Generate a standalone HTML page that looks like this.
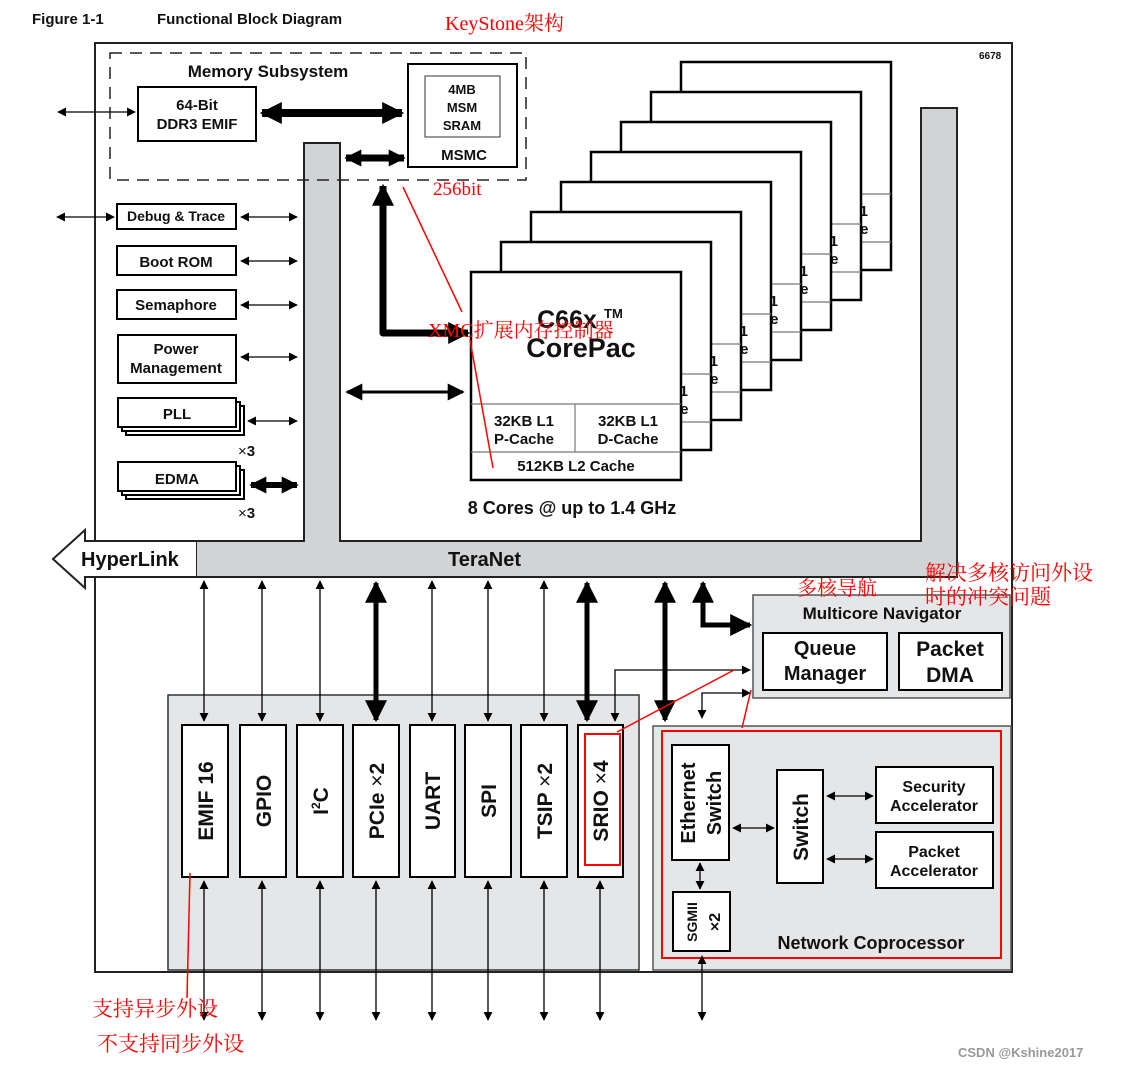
<!DOCTYPE html>
<html><head><meta charset="utf-8"><style>
html,body{margin:0;padding:0;background:#fff;}
svg{display:block;}
text{font-family:"Liberation Sans",Arial,sans-serif;font-weight:bold;fill:#111;}
.r{font-family:"Liberation Serif","Noto Serif CJK SC",serif;font-weight:normal;fill:#f00;}
</style></head><body>
<svg width="1121" height="1067" viewBox="0 0 1121 1067" xmlns="http://www.w3.org/2000/svg">
<defs>
<marker id="t" viewBox="0 0 10 10" refX="9" refY="5" markerWidth="9" markerHeight="11" markerUnits="userSpaceOnUse" orient="auto-start-reverse"><path d="M0,0L10,5L0,10z" fill="#000"/></marker>
<marker id="T" viewBox="0 0 10 10" refX="9" refY="5" markerWidth="22" markerHeight="24" markerUnits="userSpaceOnUse" orient="auto-start-reverse"><path d="M0,0L10,5L0,10z" fill="#000"/></marker>
<marker id="M" viewBox="0 0 10 10" refX="9" refY="5" markerWidth="17" markerHeight="20" markerUnits="userSpaceOnUse" orient="auto-start-reverse"><path d="M0,0L10,5L0,10z" fill="#000"/></marker>
</defs>

<text x="32" y="24" font-size="15">Figure 1-1</text>
<text x="157" y="24" font-size="15">Functional Block Diagram</text>
<text x="445" y="30" font-size="20" class="r">KeyStone架构</text>

<rect x="95" y="43" width="917" height="929" fill="#fff" stroke="#222" stroke-width="2"/>
<text x="979" y="59" font-size="10" font-weight="normal">6678</text>

<path d="M304,143H340V541H921V108H957V577H196V541H304Z" fill="#d2d3d5" stroke="#222" stroke-width="2"/>
<path d="M196,541H85V530L53,559L85,588V577H196" fill="#fff" stroke="#222" stroke-width="2"/>
<text x="81" y="566" font-size="20">HyperLink</text>
<text x="448" y="566" font-size="20">TeraNet</text>

<rect x="110" y="53" width="416" height="127" fill="none" stroke="#222" stroke-width="1.5" stroke-dasharray="12,8"/>
<text x="268" y="77" font-size="17" text-anchor="middle">Memory Subsystem</text>
<rect x="138" y="87" width="118" height="54" fill="#fff" stroke="#000" stroke-width="2"/>
<text x="197" y="110" font-size="15" text-anchor="middle">64-Bit</text>
<text x="197" y="129" font-size="15" text-anchor="middle">DDR3 EMIF</text>
<rect x="408" y="64" width="109" height="103" fill="#fff" stroke="#000" stroke-width="2"/>
<rect x="425" y="76" width="75" height="61" fill="#fff" stroke="#333" stroke-width="1"/>
<text x="462" y="94" font-size="13" text-anchor="middle">4MB</text>
<text x="462" y="112" font-size="13" text-anchor="middle">MSM</text>
<text x="462" y="130" font-size="13" text-anchor="middle">SRAM</text>
<text x="464" y="160" font-size="15" text-anchor="middle">MSMC</text>
<line x1="262" y1="113" x2="402" y2="113" stroke="#000" stroke-width="8" marker-start="url(#T)" marker-end="url(#T)"/>
<line x1="346" y1="158" x2="404" y2="158" stroke="#000" stroke-width="7" marker-start="url(#M)" marker-end="url(#M)"/>
<line x1="58" y1="112" x2="135" y2="112" stroke="#000" stroke-width="1.3" marker-start="url(#t)" marker-end="url(#t)"/>
<path d="M383,186V333H468" fill="none" stroke="#000" stroke-width="7" stroke-linejoin="round" marker-start="url(#T)" marker-end="url(#T)"/>
<text x="433" y="195" font-size="19" class="r">256bit</text>

<g stroke="#000" stroke-width="2" fill="#fff">
<rect x="117" y="204" width="119" height="25"/>
<rect x="117" y="246" width="119" height="29"/>
<rect x="117" y="290" width="119" height="29"/>
<rect x="118" y="335" width="118" height="48"/>
<rect x="126" y="406" width="118" height="29"/><rect x="122" y="402" width="118" height="29"/><rect x="118" y="398" width="118" height="29"/>
<rect x="126" y="470" width="118" height="29"/><rect x="122" y="466" width="118" height="29"/><rect x="118" y="462" width="118" height="29"/>
</g>
<text x="176" y="221" font-size="14" text-anchor="middle">Debug &amp; Trace</text>
<text x="176" y="267" font-size="15" text-anchor="middle">Boot ROM</text>
<text x="176" y="310" font-size="15" text-anchor="middle">Semaphore</text>
<text x="176" y="354" font-size="15" text-anchor="middle">Power</text>
<text x="176" y="373" font-size="15" text-anchor="middle">Management</text>
<text x="177" y="419" font-size="15" text-anchor="middle">PLL</text>
<text x="177" y="484" font-size="15" text-anchor="middle">EDMA</text>
<text x="238" y="456" font-size="15"><tspan font-weight="normal">×</tspan>3</text>
<text x="238" y="518" font-size="15"><tspan font-weight="normal">×</tspan>3</text>
<g stroke="#000" stroke-width="1.3" marker-start="url(#t)" marker-end="url(#t)">
<line x1="57" y1="217" x2="114" y2="217"/>
<line x1="241" y1="217" x2="297" y2="217"/>
<line x1="241" y1="261" x2="297" y2="261"/>
<line x1="241" y1="305" x2="297" y2="305"/>
<line x1="241" y1="357" x2="297" y2="357"/>
<line x1="248" y1="421" x2="297" y2="421"/>
</g>
<line x1="251" y1="485" x2="297" y2="485" stroke="#000" stroke-width="6" marker-start="url(#M)" marker-end="url(#M)"/>
<line x1="347" y1="392" x2="463" y2="392" stroke="#000" stroke-width="3" marker-start="url(#M)" marker-end="url(#M)"/>

<g stroke="#000" fill="#fff">
<g transform="translate(210,-210)"><rect x="471" y="272" width="210" height="208" stroke-width="2.5"/><path d="M471,404H681M575,404V452M471,452H681" stroke="#777" stroke-width="1.2"/><text x="628" y="426" font-size="15" text-anchor="middle" stroke="none">32KB L1</text><text x="628" y="444" font-size="15" text-anchor="middle" stroke="none">D-Cache</text></g>
<g transform="translate(180,-180)"><rect x="471" y="272" width="210" height="208" stroke-width="2.5"/><path d="M471,404H681M575,404V452M471,452H681" stroke="#777" stroke-width="1.2"/><text x="628" y="426" font-size="15" text-anchor="middle" stroke="none">32KB L1</text><text x="628" y="444" font-size="15" text-anchor="middle" stroke="none">D-Cache</text></g>
<g transform="translate(150,-150)"><rect x="471" y="272" width="210" height="208" stroke-width="2.5"/><path d="M471,404H681M575,404V452M471,452H681" stroke="#777" stroke-width="1.2"/><text x="628" y="426" font-size="15" text-anchor="middle" stroke="none">32KB L1</text><text x="628" y="444" font-size="15" text-anchor="middle" stroke="none">D-Cache</text></g>
<g transform="translate(120,-120)"><rect x="471" y="272" width="210" height="208" stroke-width="2.5"/><path d="M471,404H681M575,404V452M471,452H681" stroke="#777" stroke-width="1.2"/><text x="628" y="426" font-size="15" text-anchor="middle" stroke="none">32KB L1</text><text x="628" y="444" font-size="15" text-anchor="middle" stroke="none">D-Cache</text></g>
<g transform="translate(90,-90)"><rect x="471" y="272" width="210" height="208" stroke-width="2.5"/><path d="M471,404H681M575,404V452M471,452H681" stroke="#777" stroke-width="1.2"/><text x="628" y="426" font-size="15" text-anchor="middle" stroke="none">32KB L1</text><text x="628" y="444" font-size="15" text-anchor="middle" stroke="none">D-Cache</text></g>
<g transform="translate(60,-60)"><rect x="471" y="272" width="210" height="208" stroke-width="2.5"/><path d="M471,404H681M575,404V452M471,452H681" stroke="#777" stroke-width="1.2"/><text x="628" y="426" font-size="15" text-anchor="middle" stroke="none">32KB L1</text><text x="628" y="444" font-size="15" text-anchor="middle" stroke="none">D-Cache</text></g>
<g transform="translate(30,-30)"><rect x="471" y="272" width="210" height="208" stroke-width="2.5"/><path d="M471,404H681M575,404V452M471,452H681" stroke="#777" stroke-width="1.2"/><text x="628" y="426" font-size="15" text-anchor="middle" stroke="none">32KB L1</text><text x="628" y="444" font-size="15" text-anchor="middle" stroke="none">D-Cache</text></g>
<g><rect x="471" y="272" width="210" height="208" stroke-width="2.5"/><path d="M471,404H681M575,404V452M471,452H681" stroke="#777" stroke-width="1.2"/>
<text x="524" y="426" font-size="15" text-anchor="middle" stroke="none">32KB L1</text><text x="524" y="444" font-size="15" text-anchor="middle" stroke="none">P-Cache</text>
<text x="628" y="426" font-size="15" text-anchor="middle" stroke="none">32KB L1</text><text x="628" y="444" font-size="15" text-anchor="middle" stroke="none">D-Cache</text>
<text x="576" y="471" font-size="15" text-anchor="middle" stroke="none">512KB L2 Cache</text>
<text x="567" y="328" font-size="25" text-anchor="middle" stroke="none">C66x</text><text x="604" y="318" font-size="13" stroke="none">TM</text>
<text x="581" y="357" font-size="27" text-anchor="middle" stroke="none">CorePac</text></g>
</g>
<text x="572" y="514" font-size="18" text-anchor="middle">8 Cores @ up to 1.4 GHz</text>

<rect x="168" y="695" width="471" height="275" fill="#e5e6e8" stroke="#333" stroke-width="1.5"/>
<g stroke="#000" stroke-width="2" fill="#fff">
<rect x="182" y="725" width="46" height="152"/><rect x="240" y="725" width="46" height="152"/>
<rect x="297" y="725" width="46" height="152"/><rect x="353" y="725" width="46" height="152"/>
<rect x="410" y="725" width="45" height="152"/><rect x="465" y="725" width="46" height="152"/>
<rect x="521" y="725" width="46" height="152"/><rect x="578" y="725" width="45" height="152"/>
</g>
<g font-size="21">
<text transform="translate(213,801) rotate(-90)" text-anchor="middle">EMIF 16</text>
<text transform="translate(271,801) rotate(-90)" text-anchor="middle">GPIO</text>
<text transform="translate(328,801) rotate(-90)" text-anchor="middle">I<tspan font-size="12" dy="-8">2</tspan><tspan dy="8">C</tspan></text>
<text transform="translate(384,801) rotate(-90)" text-anchor="middle">PCIe <tspan font-weight="normal">×</tspan>2</text>
<text transform="translate(440,801) rotate(-90)" text-anchor="middle">UART</text>
<text transform="translate(496,801) rotate(-90)" text-anchor="middle">SPI</text>
<text transform="translate(552,801) rotate(-90)" text-anchor="middle">TSIP <tspan font-weight="normal">×</tspan>2</text>
<text transform="translate(608,801) rotate(-90)" text-anchor="middle">SRIO <tspan font-weight="normal">×</tspan>4</text>
</g>
<rect x="585" y="734" width="35" height="131" fill="none" stroke="#f00" stroke-width="2"/>

<rect x="753" y="595" width="257" height="103" fill="#e5e6e8" stroke="#555" stroke-width="1.5"/>
<text x="882" y="619" font-size="17" text-anchor="middle">Multicore Navigator</text>
<rect x="763" y="633" width="124" height="57" fill="#fff" stroke="#000" stroke-width="2"/>
<rect x="899" y="633" width="103" height="57" fill="#fff" stroke="#000" stroke-width="2"/>
<text x="825" y="655" font-size="20" text-anchor="middle">Queue</text>
<text x="825" y="680" font-size="20" text-anchor="middle">Manager</text>
<text x="950" y="656" font-size="21" text-anchor="middle">Packet</text>
<text x="950" y="682" font-size="21" text-anchor="middle">DMA</text>

<rect x="653" y="726" width="358" height="244" fill="#e5e6e8" stroke="#555" stroke-width="1.5"/>
<rect x="662" y="731" width="339" height="227" fill="none" stroke="#f00" stroke-width="2"/>
<g stroke="#000" stroke-width="2" fill="#fff">
<rect x="672" y="745" width="57" height="115"/>
<rect x="673" y="892" width="57" height="59"/>
<rect x="777" y="770" width="46" height="113"/>
<rect x="876" y="767" width="117" height="56"/>
<rect x="876" y="832" width="117" height="56"/>
</g>
<text transform="translate(695,803) rotate(-90)" font-size="20" text-anchor="middle">Ethernet</text>
<text transform="translate(721,803) rotate(-90)" font-size="20" text-anchor="middle">Switch</text>
<text transform="translate(808,827) rotate(-90)" font-size="21" text-anchor="middle">Switch</text>
<text transform="translate(697,922) rotate(-90)" font-size="14" text-anchor="middle">SGMII</text>
<text transform="translate(720,922) rotate(-90)" font-size="16" text-anchor="middle" font-weight="normal">×2</text>
<text x="934" y="792" font-size="16" text-anchor="middle">Security</text>
<text x="934" y="811" font-size="16" text-anchor="middle">Accelerator</text>
<text x="934" y="857" font-size="16" text-anchor="middle">Packet</text>
<text x="934" y="876" font-size="16" text-anchor="middle">Accelerator</text>
<text x="871" y="949" font-size="18" text-anchor="middle">Network Coprocessor</text>

<g stroke="#000" stroke-width="1.3" marker-start="url(#t)" marker-end="url(#t)">
<line x1="204" y1="581" x2="204" y2="721"/><line x1="262" y1="581" x2="262" y2="721"/>
<line x1="320" y1="581" x2="320" y2="721"/><line x1="432" y1="581" x2="432" y2="721"/>
<line x1="488" y1="581" x2="488" y2="721"/><line x1="544" y1="581" x2="544" y2="721"/>
<line x1="204" y1="881" x2="204" y2="1020"/><line x1="262" y1="881" x2="262" y2="1020"/>
<line x1="320" y1="881" x2="320" y2="1020"/><line x1="376" y1="881" x2="376" y2="1020"/>
<line x1="432" y1="881" x2="432" y2="1020"/><line x1="488" y1="881" x2="488" y2="1020"/>
<line x1="544" y1="881" x2="544" y2="1020"/><line x1="600" y1="881" x2="600" y2="1020"/>
<line x1="702" y1="956" x2="702" y2="1020"/><line x1="700" y1="863" x2="700" y2="889"/>
<path d="M615,721V670H750" fill="none"/>
<path d="M702,718V693H750" fill="none"/>
<line x1="827" y1="796" x2="873" y2="796"/><line x1="827" y1="859" x2="873" y2="859"/>
<line x1="733" y1="828" x2="774" y2="828"/>
</g>
<g stroke="#000" stroke-width="5" marker-start="url(#T)" marker-end="url(#T)">
<line x1="376" y1="583" x2="376" y2="720"/>
<line x1="587" y1="583" x2="587" y2="720"/>
<line x1="665" y1="583" x2="665" y2="720"/>
<path d="M703,583V625H750" fill="none"/>
</g>

<g stroke="#f00" stroke-width="1.5" fill="none">
<line x1="403" y1="187" x2="462" y2="312"/>
<line x1="470" y1="340" x2="493" y2="468"/>
<line x1="617" y1="732" x2="734" y2="670"/>
<line x1="742" y1="728" x2="751" y2="690"/>
<line x1="190" y1="873" x2="187" y2="998"/>
</g>
<text x="428" y="337" font-size="20" class="r">XMC扩展内存控制器</text>
<text x="797" y="595" font-size="20" class="r">多核导航</text>
<text x="925" y="580" font-size="21" class="r">解决多核访问外设</text>
<text x="925" y="604" font-size="21" class="r">时的冲突问题</text>
<text x="92" y="1016" font-size="21" class="r">支持异步外设</text>
<text x="97" y="1051" font-size="21" class="r">不支持同步外设</text>
<text x="958" y="1057" font-size="13" font-weight="normal" style="fill:#999">CSDN @Kshine2017</text>
</svg>
</body></html>
